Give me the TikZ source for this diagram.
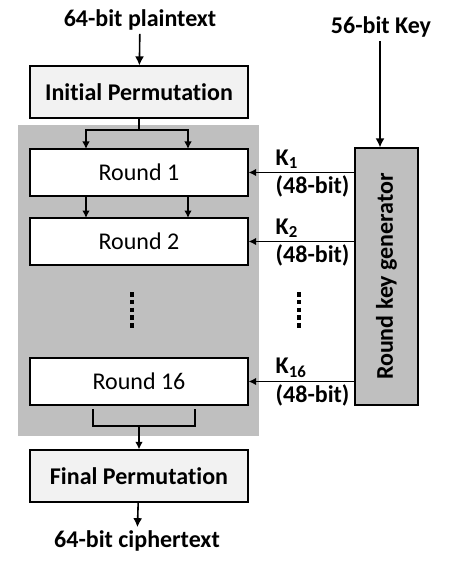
\documentclass[tikz,border=0pt]{standalone}
\usepackage{fontspec}
\setmainfont{Carlito}[Ligatures=NoCommon]
\usetikzlibrary{positioning, arrows.meta}
\tikzset{>={Latex[length=9pt,width=9pt]},
every node/.style={font=\fontsize{24}{28}\selectfont},
lbl/.style={font=\fontsize{24}{28}\selectfont\bfseries},
stage/.style={draw, line width=1.2pt, fill=gray!10, minimum width=218pt, minimum height=52pt, lbl},
roundbox/.style={draw, line width=1.2pt, fill=white, minimum width=218pt, minimum height=47pt},
keygen/.style={draw, line width=1.2pt, fill=gray!50, minimum width=63pt, minimum height=257pt, lbl},
flow/.style={line width=1.6pt},
small/.style={line width=1.3pt, >={Latex[length=7.5pt,width=7.5pt]}},
dots/.style={line width=4.5pt, dash pattern=on 4.5pt off 3.3pt},
}

\begin{document}
\begin{tikzpicture}[x=1pt, y=-1pt]
    \useasboundingbox (0,0) rectangle (459,564);
    % grey block round the 16 rounds
    \fill[gray!50] (18,125) rectangle (259,436);

    \node[lbl] (plain) at (140,20) {64-bit plaintext};
    \node[stage] (ip) at (139,92) {Initial Permutation};
    \node[roundbox] (r1) at (139,172.5) {Round 1};
    \node[roundbox] (r2) at (139,241.5) {Round 2};
    \node[roundbox] (r16) at (139,381.5) {Round 16};
    \node[stage] (fp) at (139,476) {Final Permutation};
    \node[lbl] (cipher) at (137,541) {64-bit ciphertext};
    \node[lbl] (key) at (381,27) {56-bit Key};
    \node[keygen] (kg) at (386.5,276.5) {\rotatebox{90}{Round key generator}};

    \draw[flow, ->] (plain) -- (ip);
    \coordinate (split) at (139,130);
    \draw[small] (ip) -- (split);
    \draw[small, ->] (split) -| (86,149);
    \draw[small, ->] (split) -| (188,149);
    \draw[small, ->] (86,196) -- (86,218);
    \draw[small, ->] (188,196) -- (188,218);

    % vertical ellipses
    \draw[dots] (132,292) -- (132,330);
    \draw[dots] (299,292) -- (299,330);

    \draw[small] (93,409) |- (139,426) coordinate (merge) -| (195,409);
    \draw[small, ->] (merge) -- (fp);
    \draw[flow, ->] (fp) -- (cipher);

    \draw[flow, ->] (key.south -| 380,0) -- (380,0 |- kg.north);
    \foreach \r/\k in {r1/1, r2/2, r16/16}
        \draw[small, ->] (kg.west |- \r.east) -- (\r.east)
            node[pos=0.75, anchor=south west, lbl, inner xsep=0pt, inner ysep=3pt] {K\textsubscript{\k}}
            node[pos=0.75, anchor=north west, lbl, inner xsep=0pt, inner ysep=3pt] {(48-bit)};
\end{tikzpicture}
\end{document}
